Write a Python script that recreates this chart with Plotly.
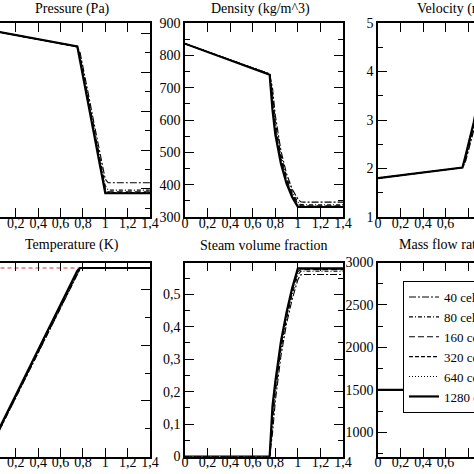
import plotly.graph_objects as go

# ---------------- data ----------------
x_pos = [0.0, 0.75, 0.775, 0.8, 0.85, 0.9, 0.95, 1.0, 1.025, 1.05, 1.4]
series_names = ["40 cells", "80 cells", "160 cells", "320 cells", "640 cells", "1280 cells"]

pressure = [
    [6.06e5, 5.65e5, 5.50e5, 5.16e5, 4.42e5, 3.68e5, 2.94e5, 2.25e5, 2.16e5, 2.16e5, 2.16e5],
    [6.06e5, 5.66e5, 5.42e5, 5.06e5, 4.31e5, 3.57e5, 2.83e5, 2.08e5, 1.98e5, 1.97e5, 1.97e5],
    [6.06e5, 5.66e5, 5.36e5, 4.99e5, 4.24e5, 3.50e5, 2.76e5, 2.00e5, 1.93e5, 1.93e5, 1.93e5],
    [6.06e5, 5.66e5, 5.31e5, 4.94e5, 4.19e5, 3.45e5, 2.70e5, 1.94e5, 1.91e5, 1.91e5, 1.91e5],
    [6.06e5, 5.66e5, 5.29e5, 4.92e5, 4.16e5, 3.42e5, 2.66e5, 1.91e5, 1.90e5, 1.90e5, 1.90e5],
    [6.06e5, 5.66e5, 5.28e5, 4.90e5, 4.14e5, 3.40e5, 2.64e5, 1.89e5, 1.89e5, 1.89e5, 1.89e5],
]
density = [
    [836, 743, 700, 615, 505, 434, 386, 356, 347, 346, 346],
    [836, 742, 680, 594, 492, 424, 377, 346, 339, 338, 338],
    [836, 742, 665, 580, 482, 416, 371, 340, 335, 335, 335],
    [836, 741, 650, 568, 474, 410, 366, 335, 333, 333, 333],
    [836, 740, 640, 561, 469, 406, 363, 333, 332, 332, 332],
    [836, 740, 632, 556, 465, 403, 361, 331, 331, 331, 331],
]
velocity = [
    [1.80, 2.02, 2.12, 2.33, 2.78, 3.38, 3.88, 4.22, 4.32, 4.34, 4.34],
    [1.80, 2.02, 2.16, 2.38, 2.84, 3.44, 3.95, 4.33, 4.41, 4.43, 4.43],
    [1.80, 2.02, 2.19, 2.41, 2.88, 3.48, 4.00, 4.40, 4.46, 4.47, 4.47],
    [1.80, 2.02, 2.21, 2.44, 2.91, 3.51, 4.02, 4.46, 4.49, 4.49, 4.49],
    [1.80, 2.02, 2.23, 2.46, 2.93, 3.53, 4.04, 4.49, 4.50, 4.50, 4.50],
    [1.80, 2.02, 2.24, 2.47, 2.95, 3.55, 4.05, 4.52, 4.52, 4.52, 4.52],
]
temperature = [
    [422.5, 452.8, 453.8, 453.97, 453.97, 453.97, 453.97, 453.97, 453.97, 453.97, 453.97],
    [422.6, 453.0, 453.9, 453.97, 453.97, 453.97, 453.97, 453.97, 453.97, 453.97, 453.97],
    [422.7, 453.2, 453.97, 453.97, 453.97, 453.97, 453.97, 453.97, 453.97, 453.97, 453.97],
    [422.8, 453.3, 453.97, 453.97, 453.97, 453.97, 453.97, 453.97, 453.97, 453.97, 453.97],
    [422.9, 453.4, 453.97, 453.97, 453.97, 453.97, 453.97, 453.97, 453.97, 453.97, 453.97],
    [422.9, 453.5, 453.97, 453.97, 453.97, 453.97, 453.97, 453.97, 453.97, 453.97, 453.97],
]
tsat_x = [0.0, 1.4]
tsat_y = [453.97, 453.97]
steam = [
    [0.0, 0.0, 0.070, 0.170, 0.310, 0.410, 0.485, 0.545, 0.560, 0.561, 0.561],
    [0.0, 0.0, 0.100, 0.195, 0.330, 0.425, 0.500, 0.560, 0.570, 0.571, 0.571],
    [0.0, 0.0, 0.125, 0.210, 0.340, 0.435, 0.510, 0.570, 0.575, 0.576, 0.576],
    [0.0, 0.0, 0.140, 0.220, 0.348, 0.440, 0.515, 0.575, 0.578, 0.578, 0.578],
    [0.0, 0.0, 0.150, 0.226, 0.352, 0.443, 0.518, 0.578, 0.579, 0.579, 0.579],
    [0.0, 0.0, 0.155, 0.230, 0.355, 0.445, 0.520, 0.580, 0.580, 0.580, 0.580],
]
mass_flow = [
    [1500, 1500, 1500, 1500, 1500, 1500, 1500, 1500, 1500, 1500, 1500],
    [1500, 1500, 1500, 1500, 1500, 1500, 1500, 1500, 1500, 1500, 1500],
    [1500, 1500, 1500, 1500, 1500, 1500, 1500, 1500, 1500, 1500, 1500],
    [1500, 1500, 1500, 1500, 1500, 1500, 1500, 1500, 1500, 1500, 1500],
    [1500, 1500, 1500, 1500, 1500, 1500, 1500, 1500, 1500, 1500, 1500],
    [1500, 1500, 1500, 1500, 1500, 1500, 1500, 1500, 1500, 1500, 1500],
]
panel_titles = ["Pressure (Pa)", "Density (kg/m^3)", "Velocity (m/s)",
                "Temperature (K)", "Steam volume fraction", "Mass flow rate (kg/s)"]

# ---------------- styles ----------------
dashes = ["7px,2px,2px,2px", "4px,2px,1px,2px", "6px,3px", "4px,2px", "1px,2px", "solid"]
widths = [1.1, 1.1, 1.1, 1.1, 1.1, 2.2]
FONT = "Liberation Serif, Times New Roman, Times, serif"
W = 474.0

fig = go.Figure()
panels = [pressure, density, velocity, temperature, steam, mass_flow]
axis_ids = ["", "2", "3", "4", "5", "6"]

for pi, (data, aid) in enumerate(zip(panels, axis_ids)):
    if pi == 3:
        fig.add_trace(go.Scatter(x=tsat_x, y=tsat_y, mode="lines", xaxis="x" + aid, yaxis="y" + aid,
                                 line=dict(color="#e0303a", dash="4px,3px", width=1.1),
                                 showlegend=False, hoverinfo="skip"))
    for si, name in enumerate(series_names):
        fig.add_trace(go.Scatter(
            x=x_pos, y=data[si], mode="lines", name=name,
            xaxis="x" + aid, yaxis="y" + aid,
            line=dict(color="black", dash=dashes[si], width=widths[si]),
            legendgroup=name, showlegend=(pi == 5),
        ))

tickfont = dict(family=FONT, size=14, color="black")

def xax(aid, dom, rng):
    return dict(domain=dom, range=rng, anchor="y" + aid, showline=True, linecolor="black", linewidth=1.5,
                mirror="allticks", ticks="inside", ticklen=9, tickwidth=1.3, tickcolor="black",
                tick0=0, dtick=0.2, showgrid=False, zeroline=False, tickfont=tickfont,
                ticklabelstandoff=-8)

def yax(aid, dom, rng, dt, side="left", mirror="allticks", labels=True):
    return dict(domain=dom, range=rng, anchor="x" + aid, side=side, showline=True, linecolor="black",
                linewidth=1.5, mirror=mirror, ticks="inside", ticklen=9, tickwidth=1.3, tickcolor="black",
                dtick=dt, tick0=0, showgrid=False, zeroline=False, tickfont=tickfont,
                showticklabels=labels,
                minor=dict(ticks="inside", ticklen=5, tickwidth=1.3, tickcolor="black",
                           dtick=dt / 2, showgrid=False))

col1 = [0, 150 / W]
col2 = [185 / W, 343 / W]
col3 = [378 / W, 1.0]
row1 = [1 - 217 / W, 1 - 23 / W]
row2 = [1 - 456.5 / W, 1 - 262.5 / W]

r1 = [0.058, 1.4]
r2 = [0, 1.4]
r3 = [0, 0.8526]

fig.update_layout(
    width=474, height=474,
    margin=dict(l=0, r=0, t=0, b=0, autoexpand=False),
    paper_bgcolor="white", plot_bgcolor="white",
    separators=", ",
    font=dict(family=FONT, size=14, color="black"),
    xaxis=xax("", col1, r1), yaxis=yax("", row1, [1.28e5, 6.265e5], 1e5, side="right", mirror=False, labels=False),
    xaxis2=xax("2", col2, r2), yaxis2=yax("2", row1, [300, 900], 100),
    xaxis3=xax("3", col3, r3), yaxis3=yax("3", row1, [1, 5], 1, mirror=False),
    xaxis4=xax("4", col1, r1), yaxis4=yax("4", row2, [419.95, 454.96], 10, side="right", mirror=False, labels=False),
    xaxis5=xax("5", col2, r2), yaxis5=yax("5", row2, [0, 0.598], 0.1),
    xaxis6=xax("6", col3, r3), yaxis6=yax("6", row2, [715, 3000], 500, mirror=False),
    showlegend=True,
    legend=dict(x=403 / W, y=1 - 281 / W, xanchor="left", yanchor="top",
                bordercolor="black", borderwidth=1, bgcolor="white",
                font=dict(family=FONT, size=13, color="black"), tracegroupgap=0,
                itemwidth=30),
)

title_pos = [(72, 9), (260, 9), (457, 9), (72, 245), (264, 245), (459, 245)]
for t, (cx, cy) in zip(panel_titles, title_pos):
    fig.add_annotation(text=t, x=cx / W, y=1 - cy / W, xref="paper", yref="paper",
                       xanchor="center", yanchor="middle", showarrow=False,
                       font=dict(family=FONT, size=14, color="black"))

fig.write_html("out.html")
